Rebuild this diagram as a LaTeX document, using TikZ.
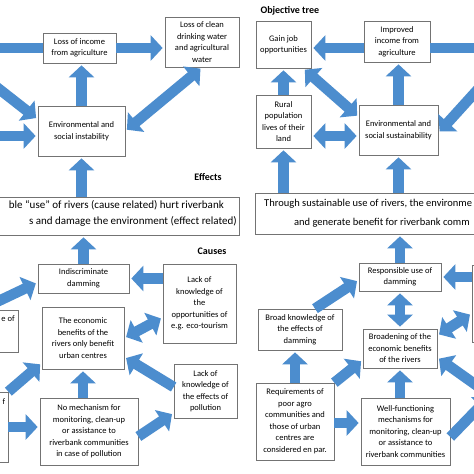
\documentclass[tikz,border=0pt]{standalone}
\usepackage{fontspec}
\setmainfont{Carlito}
\usetikzlibrary{arrows.meta}
\definecolor{arrowblue}{RGB}{76,141,206}

\begin{document}
\begin{tikzpicture}[x=1pt,y=-1pt,
  box/.style={draw=black!55,line width=0.7pt,align=center,inner sep=1pt,
    font=\fontsize{8.5}{11.5}\selectfont},
  wide/.style={draw=black!55,line width=0.7pt},
  lbl/.style={font=\fontsize{10}{12}\selectfont\bfseries},
  longtxt/.style={inner sep=0pt,font=\fontsize{11}{15}\selectfont},
  barrow/.style={arrowblue,line width=10.5pt,-{Triangle[length=12pt,width=25pt]},shorten >=2pt},
  dbarrow/.style={arrowblue,line width=10.5pt,
    {Triangle[length=12pt,width=25pt]}-{Triangle[length=12pt,width=25pt]},shorten >=2pt,shorten <=2pt}]
  \path[use as bounding box,clip] (0,0) rectangle (474,474);
  \fill[white] (0,0) rectangle (474,474);
  % problem tree: effects
  \node[box,minimum width=73pt,minimum height=30pt] (incL) at (79.5,48) {Loss of income\\from agriculture};
  \node[box,minimum width=74pt,minimum height=50pt] (watL) at (202,42) {Loss of clean\\drinking water\\and agricultural\\water};
  \node[box,minimum width=87pt,minimum height=50pt] (envL) at (81.5,131) {Environmental and\\social instability};
  \node[lbl] (effects) at (208,177) {Effects};
  % core problem (cut at the left edge)
  \node[wide,minimum width=280pt,minimum height=38pt] (coreL) at (99,216) {};
  \node[longtxt,anchor=east] (coreLa) at (224,205) {ble “use” of rivers (cause related) hurt riverbank};
  \node[longtxt,anchor=east] (coreLb) at (237,221) {s and damage the environment (effect related)};
  \node[lbl] (causes) at (212,251) {Causes};
  % problem tree: causes
  \node[box,minimum width=91pt,minimum height=29pt] (damL) at (83.5,278.5) {Indiscriminate\\damming};
  \node[box,minimum width=73pt,minimum height=79pt] (ecoL) at (199.5,303.5) {Lack of\\knowledge of\\the\\opportunities of\\e.g. eco-tourism};
  \node[box,minimum width=82pt,minimum height=62pt] (ecbL) at (83,338) {The economic\\benefits of the\\rivers only benefit\\urban centres};
  \node[box,minimum width=63pt,minimum height=54pt] (polL) at (205.5,391) {Lack of\\knowledge of\\the effects of\\pollution};
  \node[box,minimum width=98pt,minimum height=67pt] (monL) at (89,431.5) {No mechanism for\\monitoring, clean-up\\or assistance to\\riverbank communities\\in case of pollution};
  \node[box,minimum width=60pt,minimum height=42pt] (cutA) at (-12,331) {};
  \node[box,draw=none,inner sep=0pt] (cutAtxt) at (8,319) {e of};
  \node[box,minimum width=50pt,minimum height=70pt] (cutB) at (-17,427) {};
  \node[box,draw=none,inner sep=0pt] (cutBtxt) at (4,402) {f};
  % objective tree
  \node[lbl,anchor=west] (objtree) at (257,11) {Objective tree};
  \node[box,minimum width=55pt,minimum height=47pt] (jobR) at (283.5,44.5) {Gain job\\opportunities};
  \node[box,minimum width=66pt,minimum height=41pt] (incR) at (397,41.5) {Improved\\income from\\agriculture};
  \node[box,minimum width=55pt,minimum height=53pt] (rurR) at (283.5,121.5) {Rural\\population\\lives of their\\land};
  \node[box,minimum width=79pt,minimum height=50pt] (envR) at (398.5,130) {Environmental and\\social sustainability};
  \node[wide,minimum width=260pt,minimum height=41pt] (coreR) at (385,213.5) {};
  \node[longtxt,anchor=west,font=\fontsize{10.5}{15}\selectfont] (coreRa) at (264,204) {Through sustainable use of rivers, the environme};
  \node[longtxt,anchor=west,font=\fontsize{10.5}{15}\selectfont] (coreRb) at (294,223) {and generate benefit for riverbank comm};
  \node[box,minimum width=82pt,minimum height=28pt] (damR) at (400,277) {Responsible use of\\damming};
  \node[box,minimum width=50pt,minimum height=77pt] (cutR) at (497,303.5) {};
  \node[box,minimum width=84pt,minimum height=41pt] (dknR) at (300,329.5) {Broad knowledge of\\the effects of\\damming};
  \node[box,minimum width=74pt,minimum height=39pt] (ecbR) at (400,348.5) {Broadening of the\\economic benefits\\of the rivers};
  \node[box,minimum width=78pt,minimum height=77pt] (reqR) at (295,421.5) {Requirements of\\poor agro\\communities and\\those of urban\\centres are\\considered en par.};
  \node[box,minimum width=89pt,minimum height=67pt] (monR) at (405.5,431.5) {Well-functioning\\mechanisms for\\monitoring, clean-up\\or assistance to\\riverbank communities};
  % free ends outside the frame
  \coordinate (offL1) at (-30,48);
  \coordinate (offL2) at (-15,78);
  \coordinate (offL3) at (-20,136);
  \coordinate (offL4) at (-14,307);
  \coordinate (offR1) at (495,48);
  \coordinate (offR2) at (490,76);
  \coordinate (offR3) at (490,395);
  \coordinate (offR4) at (490,396);
  % arrows, effects
  \draw[barrow] (incL.west) -- (offL1);
  \draw[barrow] (offL2) -- (envL.165);
  \draw[barrow] (offL3) -- ([yshift=-5pt]envL.west);
  \draw[barrow] (incL.east) -- (incL.east -| watL.west);
  \draw[dbarrow] (envL.east) -- (watL.south);
  \draw[barrow] (envL.north) -- (envL.north |- incL.south);
  \draw[barrow] (envL.south |- coreL.north) -- (envL.south);
  % arrows, causes
  \draw[barrow] (damL.north) -- (damL.north |- coreL.south);
  \draw[barrow] (ecoL.west |- damL.east) -- (damL.east);
  \draw[barrow] (offL4) -- (damL.185);
  \draw[dbarrow] (ecbL.east) -- ([yshift=-14pt]ecoL.west);
  \draw[barrow] ([yshift=4pt]polL.west) -- ([yshift=-19pt]ecbL.east);
  \draw[barrow] (ecbL.south |- monL.north) -- (ecbL.south);
  \draw[barrow] ([yshift=-5pt]monL.east) -- ([yshift=-22pt]polL.west);
  \draw[barrow] ([yshift=4.5pt]monL.west -| cutB.east) -- ([yshift=4.5pt]monL.west);
  \draw[barrow] (cutB.north east) -- ([yshift=-25pt]ecbL.west);
  % arrows, objective tree
  \draw[barrow] ([yshift=-6.5pt]incR.west) -- ([yshift=-6.5pt]incR.west -| jobR.east);
  \draw[barrow] ([yshift=-6.5pt]incR.east) -- (offR1);
  \draw[barrow] (rurR.north) -- (rurR.north |- jobR.south);
  \draw[dbarrow] ([xshift=-8pt]jobR.south east) -- ([yshift=13pt]envR.west);
  \draw[dbarrow] ([yshift=-6pt]envR.west -| rurR.east) -- ([yshift=-6pt]envR.west);
  \draw[barrow] (envR.north) -- (envR.north |- incR.south);
  \draw[barrow] (offR2) -- ([yshift=-3pt]envR.east);
  \draw[barrow] (rurR.south |- coreR.north) -- (rurR.south);
  \draw[barrow] (envR.south |- coreR.north) -- (envR.south);
  \draw[barrow] (damR.north) -- (damR.north |- coreR.south);
  \draw[barrow] (cutR.west |- damR.east) -- (damR.east);
  \draw[barrow] ([xshift=15pt]dknR.north) -- ([yshift=-3pt]damR.west);
  \draw[dbarrow] (damR.south) -- (damR.south |- ecbR.north);
  \draw[dbarrow] ([yshift=13pt]ecbR.east) -- ([yshift=-10pt]cutR.west);
  \draw[barrow] (offR3) -- ([yshift=-9pt]ecbR.east);
  \draw[barrow] (reqR.north) -- (reqR.north |- dknR.south);
  \draw[barrow] (reqR.north east) -- ([yshift=-11.5pt]ecbR.west);
  \draw[barrow] (ecbR.south |- monR.north) -- (ecbR.south);
  \draw[barrow] ([yshift=8.5pt]monR.west -| reqR.east) -- ([yshift=8.5pt]monR.west);
  \draw[barrow] ([yshift=-5.5pt]monR.east) -- (offR4);
\end{tikzpicture}
\end{document}
